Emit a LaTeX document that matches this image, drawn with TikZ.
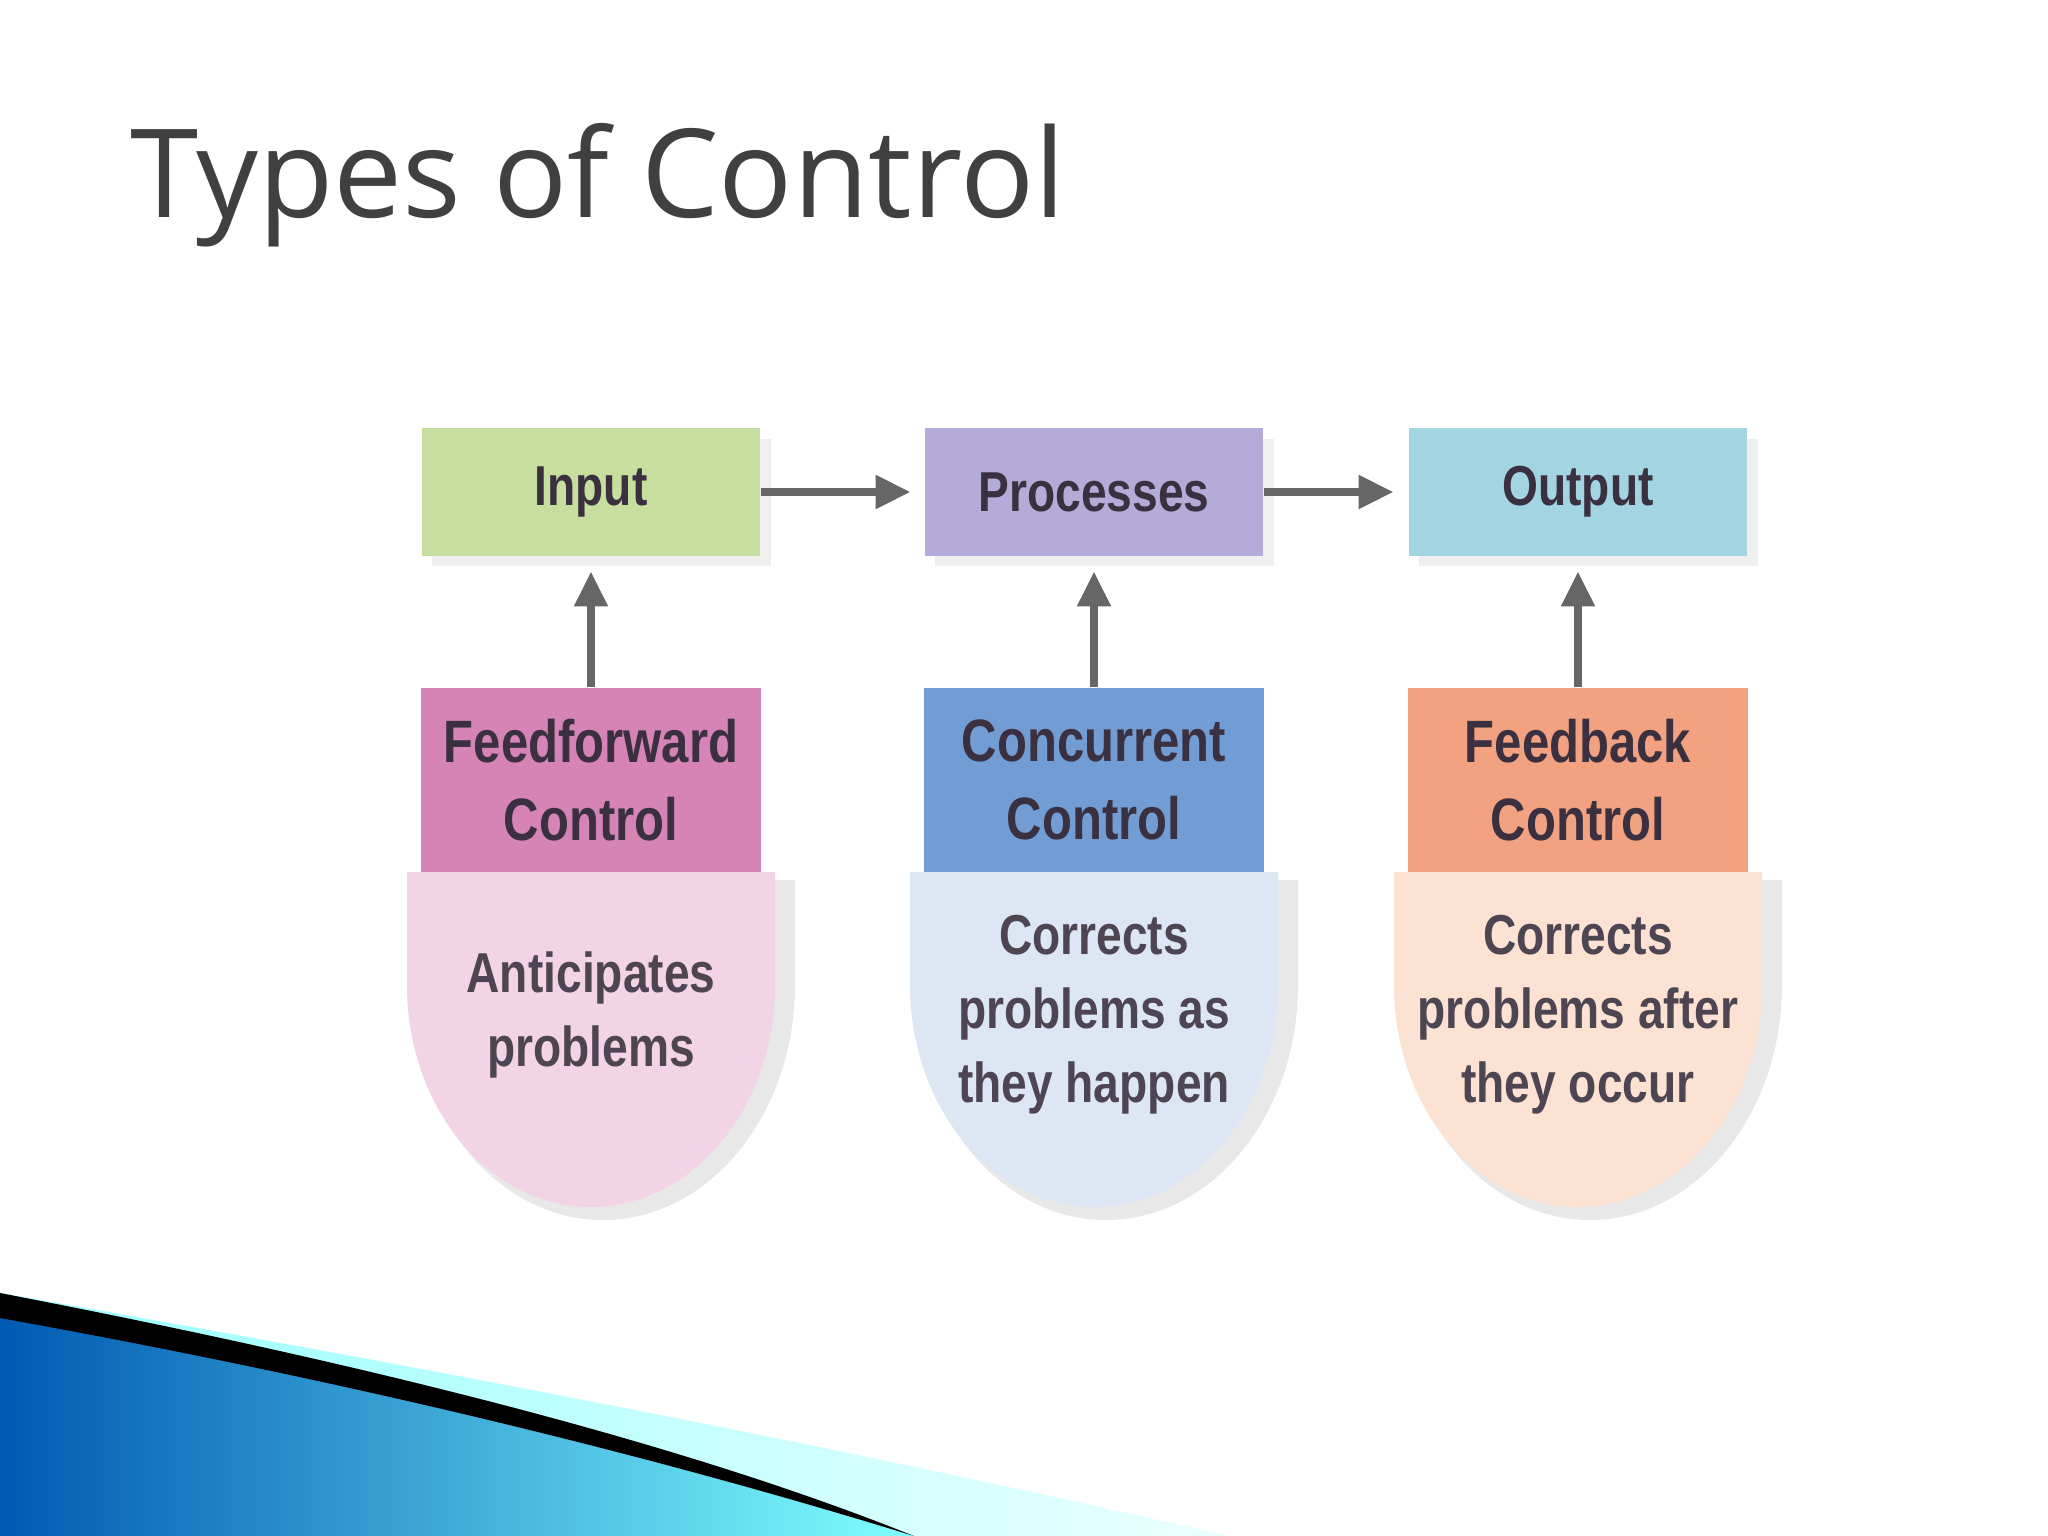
\documentclass[tikz,border=0pt]{standalone}
\usepackage{fontspec}
\setmainfont{Liberation Sans}
\newfontfamily\titlefont{Open Sans}
\newfontfamily\nar[FakeStretch=0.82]{Liberation Sans}
\usetikzlibrary{shadows,arrows.meta}
\definecolor{inpc}{HTML}{C6DE9E}
\definecolor{proc}{HTML}{B5ABD8}
\definecolor{outc}{HTML}{A3D4E2}
\definecolor{ffc}{HTML}{D683B6}
\definecolor{ccc}{HTML}{729DD4}
\definecolor{fbc}{HTML}{F3A281}
\definecolor{ffl}{HTML}{F2D4E6}
\definecolor{ccl}{HTML}{DDE7F3}
\definecolor{fbl}{HTML}{FBE2D3}
\definecolor{txt}{HTML}{3A3040}
\tikzset{
 x=0.01cm,y=-0.01cm,
 topbox/.style={minimum width=3.38cm,minimum height=1.27cm,inner sep=0pt,font=\nar\bfseries\fontsize{16}{19}\selectfont,text=txt,drop shadow={opacity=0.12,shadow xshift=3pt,shadow yshift=-3pt}},
 ctrlbox/.style={minimum width=3.4cm,minimum height=1.84cm,inner sep=0pt,align=center,font=\nar\bfseries\fontsize{17}{22}\selectfont,text=txt},
 body/.style={align=center,font=\nar\bfseries\fontsize{16}{21}\selectfont,text=txt!90!white},
 arr/.style={draw=gray!80!black,line width=2.5pt,-{Triangle[length=10pt,width=9pt]}},
}
\begin{document}
\begin{tikzpicture}
\useasboundingbox (0,0) rectangle (2048,1536);
\fill[white] (0,0) rectangle (2048,1536);
% bottom decoration
\shade[left color=cyan!40!white,right color=cyan!8!white] (0,1293) .. controls (500,1380) and (900,1460) .. (1228,1536) -- (0,1536) -- cycle;
\shade[left color=blue!50!cyan!70!black,right color=cyan!50] (0,1300) .. controls (400,1390) and (700,1470) .. (914,1536) -- (0,1536) -- cycle;
\fill[black] (0,1293) .. controls (400,1370) and (700,1450) .. (914,1536) .. controls (700,1470) and (400,1390) .. (0,1318) -- cycle;
% title
\node[anchor=west,font=\titlefont\fontsize{35}{40}\selectfont,text=black!75] (title) at (118,185) {Types of Control};
% top boxes
\node[topbox,fill=inpc] (in) at (591,492) {Input};
\node[topbox,fill=proc] (pr) at (1094,492) {Processes};
\node[topbox,fill=outc] (out) at (1578,492) {Output};
% ovals and control boxes
\foreach \cx/\lc/\dc/\nm/\tl/\bt in {591/ffl/ffc/ff/{Feedforward\\Control}/{Anticipates\\problems},
 1094/ccl/ccc/cc/{Concurrent\\Control}/{Corrects\\problems as\\they happen},
 1578/fbl/fbc/fb/{Feedback\\Control}/{Corrects\\problems after\\they occur}}{
 \fill[black,opacity=0.09] (\cx-180,880) -- (\cx-180,985) arc[start angle=180,end angle=0,x radius=192,y radius=235] -- (\cx+204,880) -- cycle;
 \fill[\lc] (\cx-184,872) -- (\cx-184,985) arc[start angle=180,end angle=0,x radius=184,y radius=222] -- (\cx+184,872) -- cycle;
 \node[ctrlbox,fill=\dc] (\nm) at (\cx,780) {\tl};
 \node[body] (\nm b) at (\cx,1015) {\bt};
}
\draw[arr] (in.east) -- ++(150,0) coordinate (a1);
\draw[arr] (pr.east) -- ++(130,0) coordinate (a2);
\draw[arr] (ff.north) -- ([yshift=-0.15cm]in.south);
\draw[arr] (cc.north) -- ([yshift=-0.15cm]pr.south);
\draw[arr] (fb.north) -- ([yshift=-0.15cm]out.south);
\end{tikzpicture}
\end{document}
